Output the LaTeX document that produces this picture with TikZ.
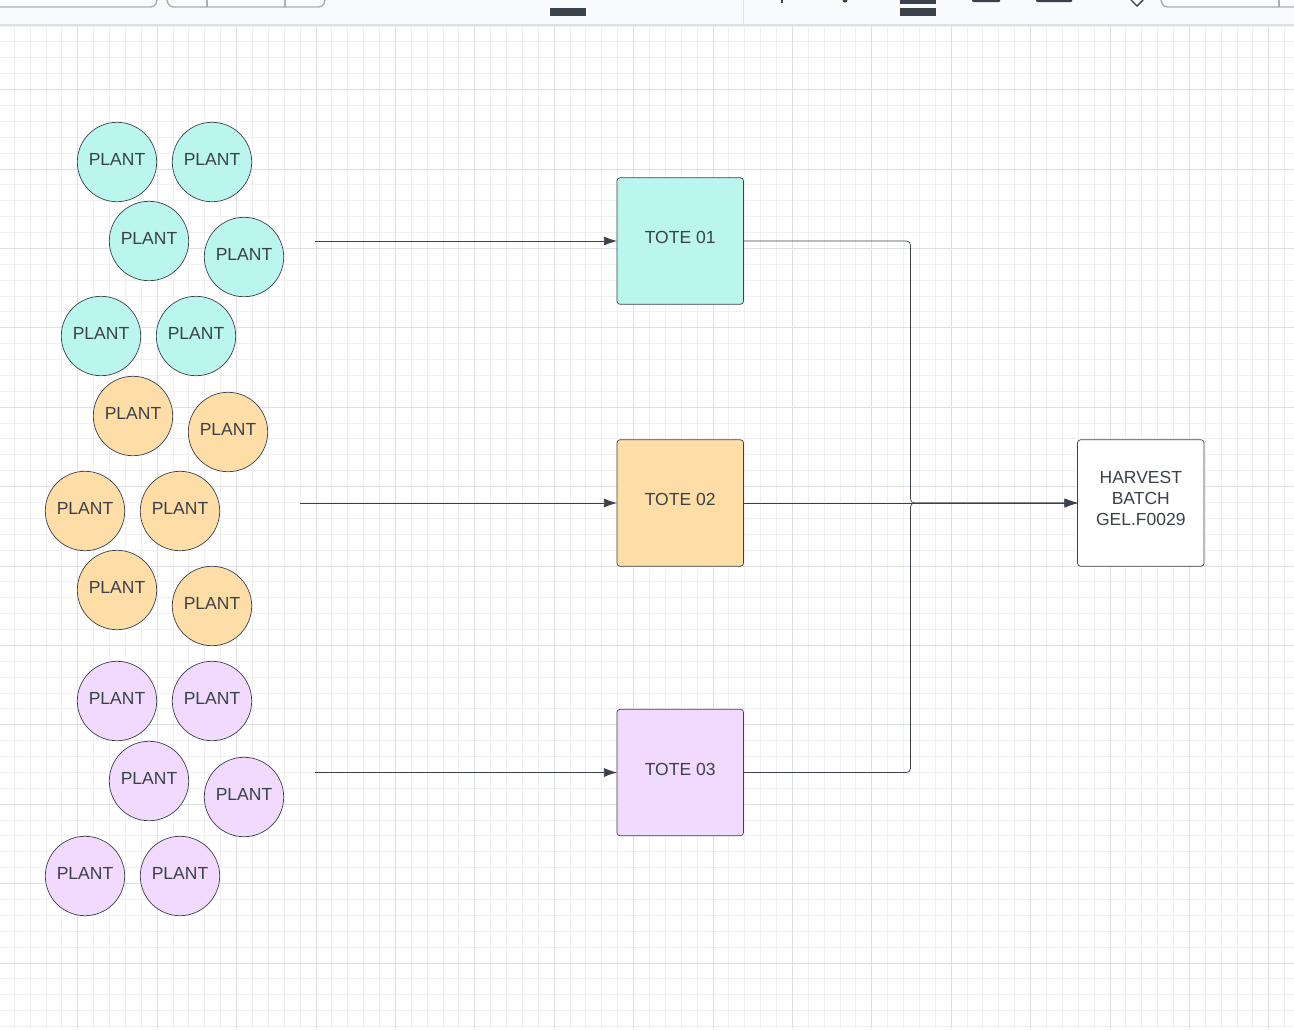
\documentclass[tikz,border=0pt]{standalone}
\usepackage{fontspec}
\setmainfont{Liberation Sans}
\usetikzlibrary{arrows.meta}
\definecolor{inkgrey}{HTML}{3A414A}
\definecolor{toolbargrey}{HTML}{F9FAFC}
\definecolor{edgegrey}{HTML}{A9AFBA}
\definecolor{minorgrey}{HTML}{F0F0F2}
\definecolor{majorgrey}{HTML}{DFE0E3}
\definecolor{teal}{HTML}{BAF5EE}
\definecolor{peach}{HTML}{FFDDA6}
\definecolor{lilac}{HTML}{F2D9FE}

\begin{document}
\begin{tikzpicture}[x=1pt, y=-1pt,
	every node/.style = {draw=inkgrey, line width=0.7pt, text=inkgrey, outer sep=0pt,
		inner sep=0pt, align=center, font=\fontsize{17.5}{20.6}\selectfont},
	plantnode/.style = {shape=circle, minimum size=79.4pt, text height=13pt, text depth=5.5pt},
	totenode/.style = {shape=rectangle, rounded corners=3pt, minimum size=126.5pt,
		text height=13pt, text depth=8pt},
	link/.style = {draw=inkgrey, line width=0.7pt, rounded corners=4pt,
		-{Latex[length=13pt,width=9pt]}}]
	\useasboundingbox (0,0) rectangle (1294,1029);
	\fill[white] (0,0) rectangle (1294,1029);
	\foreach \k in {0,...,81} {
		\pgfmathsetmacro{\gx}{14.18+15.88*\k}
		\draw[minorgrey, line width=0.8pt] (\gx,0) -- (\gx,1029);
	}
	\foreach \k in {0,...,64} {
		\pgfmathsetmacro{\gy}{10.1+15.88*\k}
		\draw[minorgrey, line width=0.8pt] (0,\gy) -- (1294,\gy);
	}
	\foreach \k in {0,...,15} {
		\pgfmathsetmacro{\gx}{77.7+79.4*\k}
		\draw[majorgrey, line width=0.8pt] (\gx,0) -- (\gx,1029);
	}
	\foreach \k in {-1,...,12} {
		\pgfmathsetmacro{\gy}{89.5+79.4*\k}
		\draw[majorgrey, line width=0.8pt] (0,\gy) -- (1294,\gy);
	}
	\fill[toolbargrey] (0,0) rectangle (1294,24.5);
	\draw[majorgrey, line width=1.5pt] (0,25) -- (1294,25);
	\draw[majorgrey, line width=1.5pt] (743.5,0) -- (743.5,24);
	\draw[edgegrey, line width=1.4pt, rounded corners=4pt] (0,7) -- (155,7) -- (157,0);
	\draw[edgegrey, line width=1.4pt, rounded corners=4pt] (167,0) -- (169,7) -- (323,7) -- (325,0);
	\draw[edgegrey, line width=1.4pt] (207,0) -- (207,7) (285,0) -- (285,7);
	\draw[edgegrey, line width=1.4pt, rounded corners=4pt] (1294,7) -- (1163,7) -- (1161,0);
	\draw[edgegrey, line width=1.4pt] (1279,0) -- (1279,7);
	\fill[inkgrey] (550,8) rectangle (586,16);
	\fill[inkgrey] (900,8) rectangle (936,16);
	\fill[inkgrey] (900,0) rectangle (936,4);
	\fill[inkgrey, rounded corners=1pt] (972,-2) rectangle (1000,2);
	\fill[inkgrey, rounded corners=1pt] (1036,-2) rectangle (1072,2);
	\draw[inkgrey, line width=1.2pt] (782,0) -- (782,3);
	\fill[inkgrey] (845,0) circle (2.5);
	\draw[inkgrey, line width=1.4pt] (1131,0) -- (1137,6) -- (1143,0);

	\foreach \px/\py [count=\n] in {117/162,212/162,149/241,244/257,101/336,196/336}
		\node[plantnode, fill=teal] (PlantA\n) at (\px,\py) {PLANT};
	\foreach \px/\py [count=\n] in {133/416,228/432,85/511,180/511,117/590,212/606}
		\node[plantnode, fill=peach] (PlantB\n) at (\px,\py) {PLANT};
	\foreach \px/\py [count=\n] in {117/701,212/701,149/781,244/797,85/876,180/876}
		\node[plantnode, fill=lilac] (PlantC\n) at (\px,\py) {PLANT};

	\node[totenode, fill=teal] (ToteA) at (680.2,241) {TOTE 01};
	\node[totenode, fill=peach] (ToteB) at (680.2,503) {TOTE 02};
	\node[totenode, fill=lilac] (ToteC) at (680.2,772.5) {TOTE 03};
	\node[totenode, fill=white, text height=50pt, text depth=6pt] (Harvest) at (1140.8,503) {HARVEST\\BATCH\\GEL.F0029};

	\coordinate (StartA) at (315,241);
	\coordinate (StartB) at (300,503);
	\coordinate (StartC) at (315,772.5);
	\draw[link] (StartA) -- (ToteA);
	\draw[link] (StartB) -- (ToteB);
	\draw[link] (StartC) -- (ToteC);
	\draw[link] (ToteA.east) -| (910.5,503) -- (Harvest.west);
	\draw[link] (ToteB) -- (Harvest);
	\draw[link] (ToteC.east) -| (910.5,503) -- (Harvest.west);
\end{tikzpicture}
\end{document}
